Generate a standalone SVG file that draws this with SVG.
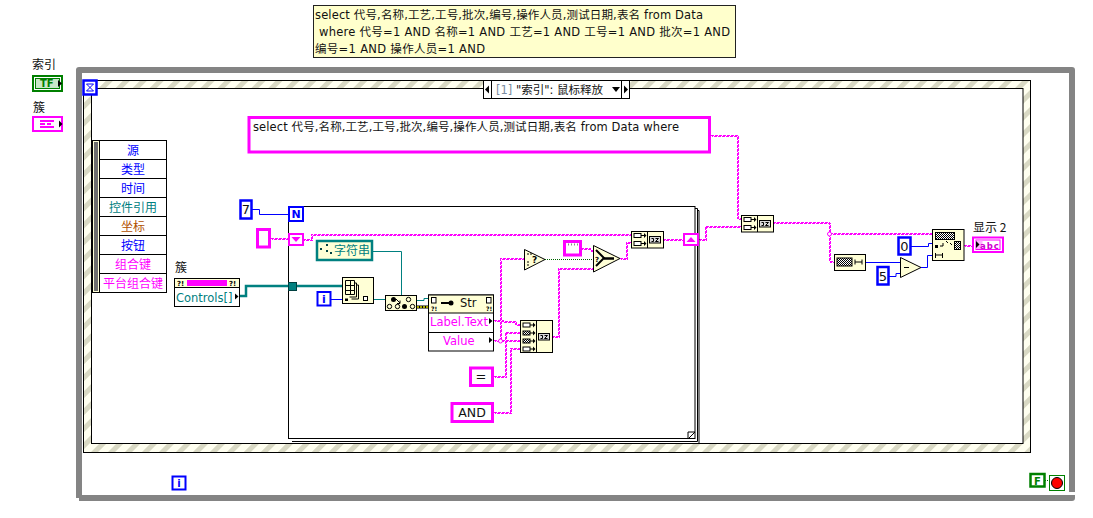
<svg xmlns="http://www.w3.org/2000/svg" width="1093" height="518" viewBox="0 0 1093 518">
<style>
text{font-family:"Noto Sans CJK SC","Liberation Sans",sans-serif;font-size:12px;fill:#111}
.lat{font-family:"DejaVu Sans","Noto Sans CJK SC",sans-serif;font-size:11.5px}
.num{font-family:"DejaVu Sans",sans-serif;font-size:13px}
.c{text-anchor:middle}
.b{fill:#0000ff}.t{fill:#008080}.p{fill:#ff00ff}.o{fill:#b05000}
.n{fill:#ffffd6;stroke:#000;stroke-width:1}
.w{fill:#fff;stroke:#000;stroke-width:1}
.pc{fill:#fff;stroke:#ff00ff;stroke-width:3}
.bc{fill:#fff;stroke:#0000ff;stroke-width:2.5}
.s{fill:none;stroke:#ff00ff;stroke-width:1;stroke-dasharray:3 1;shape-rendering:crispEdges}
.bw{fill:none;stroke:#0000ff;stroke-width:1}
.tw{fill:none;stroke:#008080;stroke-width:1}
.tw2{fill:none;stroke:#008080;stroke-width:2.5}
.gw{fill:none;stroke:#006400;stroke-width:1;stroke-dasharray:1 1}
.k{fill:none;stroke:#000;stroke-width:1}
.sm{font-family:"DejaVu Sans",sans-serif;font-size:8px;font-weight:bold;fill:#000}
</style>
<defs>
<pattern id="hatch" width="12" height="12" patternUnits="userSpaceOnUse" patternTransform="rotate(45)">
<rect width="12" height="12" fill="#fffff0"/><rect width="5" height="12" fill="#d9d9c4"/>
</pattern>
<pattern id="chk" width="2" height="2" patternUnits="userSpaceOnUse">
<rect width="2" height="2" fill="#fff"/><rect width="1" height="1" fill="#000"/><rect x="1" y="1" width="1" height="1" fill="#000"/>
</pattern>
<g id="concat-out"><rect x="0" y="0" width="11" height="6.500" fill="#d8d8d8" stroke="#000"/><path d="M2 2h2v3h-2M6 2h3l-3 3h3" fill="none" stroke="#000"/></g>
<path id="arr" d="M0 -0.500h3v-2l2.500 2.500l-2.500 2.500v-2h-3z" fill="#000"/>
</defs>
<rect width="1093" height="518" fill="#fff"/>

<g id="comment"><rect x="313.500" y="5.500" width="422" height="52" fill="#ffffcc" stroke="#222"/>
<text class="lat" x="315" y="19" textLength="388">select 代号,名称,工艺,工号,批次,编号,操作人员,测试日期,表名 from Data</text>
<text class="lat" x="319" y="36" textLength="411">where 代号=1 AND 名称=1 AND 工艺=1 AND 工号=1 AND 批次=1 AND</text>
<text class="lat" x="315" y="53" textLength="170">编号=1 AND 操作人员=1 AND</text></g>

<g id="index-terminal"><text x="32" y="69">索引</text>
<rect x="33" y="76" width="29" height="15" fill="#fff" stroke="#008000" stroke-width="2"/>
<rect x="35.500" y="78.500" width="24" height="10" fill="#c8e8c8" stroke="#008000"/>
<text x="40" y="87" style="font-size:10px;font-weight:bold;fill:#008000;font-family:'DejaVu Sans'">TF</text>
<path d="M58 80l4 3.500l-4 3.500z" fill="#000"/></g>
<g id="cluster-terminal"><text x="33" y="112">簇</text>
<rect x="33" y="117" width="29" height="14" fill="#fff" stroke="#ff00ff" stroke-width="2"/>
<path d="M40 121h14M40 124h5M47 124h4M40 127h14" stroke="#ff00ff" stroke-width="2"/>
<path d="M59 120.500l3.500 3.500l-3.500 3.500z" fill="#000"/></g>

<g id="while-loop"><path d="M79 498V70H1072V498H79" fill="none" stroke="#848484" stroke-width="6" stroke-linejoin="round"/>
<rect x="1065" y="492" width="10" height="3" fill="#fff"/></g>

<g id="case-structure"><rect x="83.500" y="80.500" width="947" height="372" fill="url(#hatch)" stroke="#000"/>
<rect x="91.500" y="88.500" width="931.500" height="355" fill="#fff" stroke="#000"/>
<rect x="83.500" y="80.500" width="13" height="14" fill="#fff" stroke="#0000ff" stroke-width="2.500"/>
<path d="M86.500 84h7l-7 7h7z" fill="none" stroke="#0000ff"/></g>

<g id="selector"><rect x="483.500" y="80.500" width="146" height="18" fill="#fff" stroke="#000"/>
<path d="M491.500 80.500v18M621.500 80.500v18" stroke="#000"/>
<path d="M489 85.500v8l-4-4zM624 85.500v8l4-4z" fill="#000"/>
<path d="M612 87h8l-4 5z" fill="#000"/>
<text x="496" y="94" class="lat"><tspan style="fill:#7c8ca0">[1]</tspan> "索引": 鼠标释放</text></g>

<g id="connectors">
<g id="strs">
<path class="s" d="M271 238.500H288M303 239.500H311.500V234.500H631"/>
<path class="s" d="M494 320.500H503.500V321.500H515.500V324.500H520"/>
<path class="s" d="M494 340.500H520M500.500 340.500V258.500H524"/>
<path class="s" d="M494 376.500H505.500V332.500H520"/>
<path class="s" d="M494 412.500H510.500V348.500H520"/>
<path class="s" d="M552 336.500H558.500V268.500H593"/>
<path class="s" d="M581 248.500H590.500V250.500H593"/>
<path class="s" d="M620 258.500H626.500V242.500H631"/>
<path class="s" d="M663 239.500H683"/>
<path class="s" d="M699 239.500H705.500V226.500H741"/>
<path class="s" d="M711 135.500H737.500V218.500H741"/>
<path class="s" d="M773 222.500H829.500V261.500H834M829.500 233.500H932"/>
<path class="s" d="M964 245.500H973"/>
</g>
<use href="#strs" transform="translate(1 1)" style="stroke-dashoffset:2"/>
<circle cx="500.500" cy="341" r="2" fill="#fff" stroke="#ff00ff"/>
<circle cx="829.500" cy="234" r="2" fill="#fff" stroke="#ff00ff"/>
<path class="bw" d="M252 209.500H259.500V214.500H288"/>
<path class="bw" d="M331 299.500H342"/>
<path class="bw" d="M865 262.500H900"/>
<path class="bw" d="M910 246.500H928.500V243.500H932"/>
<path class="bw" d="M889 276.500H896V273.500H900"/>
<path class="bw" d="M921 267.500H927.500V255.500H932"/>
<path class="tw" d="M373 251.500H401.500V295"/>
<path class="tw" d="M374 299.500H385"/>
<path class="tw" d="M417 300.500H424V298.500H428"/>
<path class="tw2" d="M240 296H246V286H342"/>
<path d="M417 307H428" stroke="#000" stroke-width="3"/><path d="M417 307H428" stroke="#e0e000" stroke-width="1.500" stroke-dasharray="2 1"/>
<path class="gw" d="M545 259.500H593"/>
<path class="gw" d="M1045 480.500H1049"/>
</g>

<g id="for-loop">
<path d="M695 208.500H697.500V441.500H292M697 210.500H699V443" fill="none" stroke="#000"/>
<rect x="288.500" y="206.500" width="406.500" height="232" fill="none" stroke="#000"/>
<path d="M688 439l7-7h-7z" fill="#fff" stroke="#000"/>
</g>

<g id="event-data"><rect x="92.500" y="140.500" width="74" height="152" fill="#fff" stroke="#000"/>
<rect x="92.500" y="140.500" width="7" height="152" fill="#ffffd6" stroke="#000"/>
<rect x="94" y="142" width="4" height="149" fill="#6e6e6e"/>
<path d="M99 159.500h67M99 178.500h67M99 197.500h67M99 216.500h67M99 235.500h67M99 254.500h67M99 273.500h67" stroke="#000"/>
<text x="133" y="154.500" class="c b">源</text>
<text x="133" y="173.500" class="c b">类型</text>
<text x="133" y="192.500" class="c b">时间</text>
<text x="133" y="211.500" class="c t">控件引用</text>
<text x="133" y="230.500" class="c o">坐标</text>
<text x="133" y="249.500" class="c b">按钮</text>
<text x="133" y="268.500" class="c p">组合键</text>
<text x="133" y="287.500" class="c p">平台组合键</text></g>

<g id="cluster-property"><text x="175" y="272">簇</text>
<rect x="174.500" y="278.500" width="65" height="28" fill="#fff" stroke="#000"/>
<rect x="174.500" y="278.500" width="65" height="9" fill="#ffffd6" stroke="#000"/>
<rect x="187" y="280" width="40" height="6" fill="#ff00ff"/>
<text x="177" y="286" class="sm" style="font-size:7px">?!</text><text x="229" y="286" class="sm" style="font-size:7px">?!</text>
<text x="176" y="301.500" class="lat t">Controls[]</text>
<path d="M235 293.500l3.500 3l-3.500 3z" fill="#000"/></g>

<g id="sql-const"><rect x="249" y="117.500" width="460.500" height="34.500" class="pc"/>
<text x="253" y="131" class="lat" textLength="426">select 代号,名称,工艺,工号,批次,编号,操作人员,测试日期,表名 from Data where</text></g>

<g id="n-const"><rect x="240.500" y="200.500" width="11" height="18" class="bc"/><text x="246" y="214" class="c num">7</text></g>
<g id="n-terminal"><rect x="289" y="207" width="14" height="14" fill="#fff" stroke="#0000ff" stroke-width="2"/><text x="296" y="218" class="c" style="font-family:'DejaVu Sans';font-size:11px;font-weight:bold;fill:#0000ff">N</text></g>
<g id="empty-const"><rect x="257.500" y="229.500" width="12" height="17.500" class="pc"/></g>
<g id="shift-left"><rect x="289" y="234" width="14" height="11" fill="#fff" stroke="#ff00ff" stroke-width="2"/><path d="M291.500 237h9l-4.500 5z" fill="#ff00ff"/></g>
<g id="tunnel"><rect x="288.500" y="282.500" width="8" height="8" fill="#008080" stroke="#004040"/></g>

<g id="string-const"><rect x="317" y="241" width="55" height="19" fill="#ffffd6" stroke="#008080" stroke-width="2.500"/>
<path d="M320 248h2v2h-2zM326 244h2v2h-2zM326 250h2v2h-2zM330 252h2v2h-2z" fill="#004040"/>
<text x="334" y="255" class="t">字符串</text></g>
<g id="i-terminal"><rect x="317.500" y="292" width="13" height="13.500" fill="#fff" stroke="#0000ff" stroke-width="2"/><text x="324" y="303" class="c" style="font-family:'DejaVu Sans';font-size:11px;font-weight:bold;fill:#0000ff">i</text></g>
<g id="array-index"><rect x="342.500" y="277.500" width="31" height="26" class="n"/>
<path d="M345.500 280.500h9v14h-9zM345.500 285.500h9M345.500 290.500h9M350.500 280.500v14M354.500 283h2v14h-7M356.500 285h2v14h-7" class="k"/>
<rect x="345" y="298.500" width="3" height="2.500" fill="#000"/><rect x="363.500" y="296.500" width="4" height="4" fill="#fff" stroke="#000"/></g>
<g id="to-specific"><rect x="385.500" y="295.500" width="31" height="15" class="n"/>
<circle cx="393.500" cy="299.500" r="2.500" fill="#000"/><circle cx="389.500" cy="306.500" r="2.200" fill="none" stroke="#000"/><circle cx="397.500" cy="306.500" r="2.200" fill="none" stroke="#000"/>
<circle cx="408.500" cy="299.500" r="2.200" fill="none" stroke="#000"/><circle cx="404.500" cy="306.500" r="2.500" fill="#000"/><circle cx="412.500" cy="306.500" r="2.200" fill="none" stroke="#000"/>
<path d="M396 299l4 4M397 303.500h3v-3" fill="none" stroke="#000"/></g>

<g id="property-node"><rect x="428.500" y="295" width="65" height="56" class="w"/>
<rect x="428.500" y="295" width="65" height="18" class="n"/>
<path d="M428.500 332.500h65" stroke="#000"/>
<rect x="431.500" y="297.500" width="4.500" height="5.500" fill="#fff" stroke="#000"/><rect x="486.500" y="297.500" width="4.500" height="5.500" fill="#fff" stroke="#000"/>
<text x="431" y="311" class="sm" style="font-size:6px">?!</text><text x="486" y="311" class="sm" style="font-size:6px">?!</text>
<path d="M441 303h9" stroke="#000" stroke-width="2"/><circle cx="451" cy="303" r="2.500" fill="#000"/>
<text x="460" y="307" class="lat">Str</text>
<text x="430" y="326" class="lat p">Label.Text</text>
<text x="443" y="345" class="lat p">Value</text>
<path d="M489 318l3.500 3l-3.500 3zM489 337l3.500 3l-3.500 3z" fill="#000"/></g>

<g id="eq-const"><rect x="470.500" y="368" width="22" height="17.500" class="pc"/><text x="481" y="381" class="c num">=</text></g>
<g id="and-const"><rect x="452" y="403.500" width="40.500" height="18" class="pc"/><text x="472" y="417" class="c num" style="font-size:12.500px">AND</text></g>

<g id="concat-a"><rect x="520.500" y="320.500" width="32" height="32" class="n"/><path d="M536.500 320.500v32" stroke="#000"/>
<rect x="523" y="323" width="7" height="4" fill="#fff" stroke="#000"/><rect x="523" y="331" width="7" height="4" fill="url(#chk)" stroke="#000"/><rect x="523" y="339" width="7" height="4" fill="url(#chk)" stroke="#000"/><rect x="523" y="347" width="7" height="4" fill="#fff" stroke="#000"/>
<use href="#arr" x="530" y="325"/><use href="#arr" x="530" y="333"/><use href="#arr" x="530" y="341"/><use href="#arr" x="530" y="349"/>
<use href="#concat-out" x="538.500" y="333.500"/></g>

<g id="empty-test"><path d="M524.500 249.500L545 259.500L524.500 270z" class="n"/><path d="M527 254h2M530 254h2M527 265h2M527 262h2" stroke="#000"/><text x="532" y="263" class="sm" style="font-size:9px">?</text></g>
<g id="empty-str"><rect x="564.500" y="241.500" width="16" height="13.500" class="pc"/><path d="M568 244.500h1M571 244.500h1M574 244.500h1M577 244.500h1" stroke="#888" stroke-width="2"/></g>
<g id="select"><path d="M593.500 245.500L620 258.500L593.500 272z" class="n"/><path d="M596 250l8 8l-8 8" fill="none" stroke="#000" stroke-width="2"/><path d="M604 258.500h10" stroke="#000" stroke-width="2.500"/><text x="595" y="262" class="sm" style="font-size:7px">?</text></g>
<g id="concat-b"><rect x="631.500" y="231.500" width="32" height="16.500" class="n"/><path d="M647.500 231.500v16.500" stroke="#000"/>
<rect x="634" y="233.500" width="7" height="4" fill="#fff" stroke="#000"/><rect x="634" y="241.500" width="7" height="4" fill="#fff" stroke="#000"/>
<use href="#arr" x="641" y="235.500"/><use href="#arr" x="641" y="243.500"/><use href="#concat-out" x="649.500" y="236.500"/></g>
<g id="shift-right"><rect x="684" y="234" width="14" height="11" fill="#fff" stroke="#ff00ff" stroke-width="2"/><path d="M686.500 242h9l-4.500-5z" fill="#ff00ff"/></g>
<g id="concat-c"><rect x="741.500" y="215.500" width="32" height="16.500" class="n"/><path d="M757.500 215.500v16.500" stroke="#000"/>
<rect x="744" y="217.500" width="7" height="4" fill="#fff" stroke="#000"/><rect x="744" y="225.500" width="7" height="4" fill="#fff" stroke="#000"/>
<use href="#arr" x="751" y="219.500"/><use href="#arr" x="751" y="227.500"/><use href="#concat-out" x="759.500" y="220.500"/></g>
<g id="str-length"><rect x="834.500" y="254.500" width="31" height="16" class="n"/><rect x="837" y="258" width="15" height="8" fill="url(#chk)" stroke="#000"/><path d="M855 262h7M855 259.500v5M862 259.500v5" stroke="#000"/></g>
<g id="zero-const"><rect x="898.500" y="237.500" width="12" height="17" class="bc"/><text x="904.500" y="251" class="c num">0</text></g>
<g id="five-const"><rect x="877.500" y="267" width="11" height="17.500" class="bc"/><text x="883" y="280.500" class="c num">5</text></g>
<g id="subtract"><path d="M900.500 257.500L921 267.500L900.500 277.500z" class="n"/><path d="M904 267.500h5" stroke="#000"/></g>
<g id="str-subset"><rect x="932.500" y="229.500" width="31.500" height="31" class="n"/>
<rect x="935.500" y="232.500" width="19" height="7" fill="url(#chk)" stroke="#000"/><rect x="954.500" y="241.500" width="6" height="8" fill="url(#chk)" stroke="#000"/>
<rect x="935" y="245" width="3" height="3" fill="#000"/><path d="M940 246h3M943 243v3M946 241l2 2M950 243l2 2" stroke="#000"/><path d="M935 255h7M935.500 253v5M942.500 253v5" stroke="#000"/></g>
<g id="display"><text x="973" y="232">显示 2</text><rect x="973" y="237.500" width="30" height="14.500" fill="#fff" stroke="#ff00ff" stroke-width="2"/><rect x="976" y="240" width="24" height="9.500" fill="#fff" stroke="#ff00ff"/><rect x="976.500" y="240.500" width="6" height="8.500" fill="#ffb0ff"/>
<path d="M976 241l3.500 3.500l-3.500 3.500z" fill="#000"/><text x="980" y="248.500" style="font-family:'DejaVu Sans';font-size:8.500px;font-weight:bold;fill:#d000d0;letter-spacing:1px">abc</text></g>

<g id="while-i"><rect x="172.500" y="476.500" width="13" height="13" fill="#fff" stroke="#0000ff" stroke-width="2"/><text x="179" y="487" class="c" style="font-family:'DejaVu Sans';font-size:10px;font-weight:bold;fill:#0000ff">i</text></g>
<g id="false-const"><rect x="1030.500" y="474" width="14" height="12.500" fill="#fff" stroke="#008000" stroke-width="2.500"/><text x="1037.500" y="484.500" class="c" style="font-family:'DejaVu Sans';font-size:10px;font-weight:bold;fill:#008000">F</text></g>
<g id="stop"><rect x="1049.500" y="475.500" width="15" height="15" fill="#fff" stroke="#008000"/><circle cx="1057" cy="483" r="5.500" fill="#ff0000" stroke="#000"/></g>
</svg>
